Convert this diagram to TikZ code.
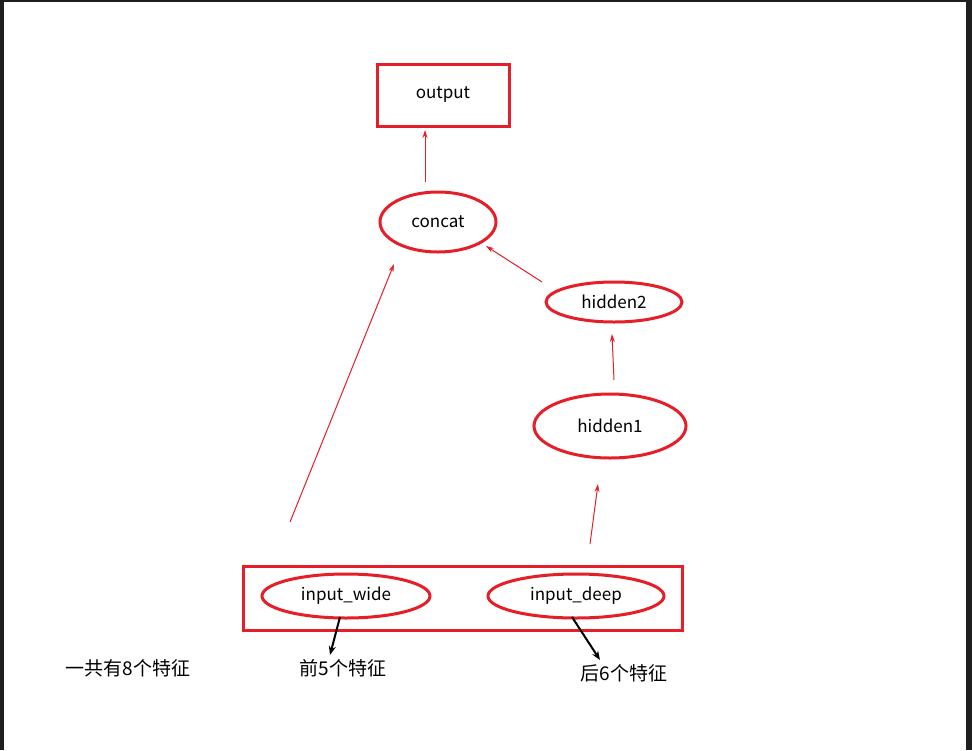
\documentclass[tikz,border=0pt]{standalone}
\usepackage{fontspec}
\setmainfont{Noto Sans CJK SC}
\usetikzlibrary{arrows.meta,shapes.geometric}
\begin{document}
\begin{tikzpicture}[x=1pt,y=-1pt,
  red1/.style={draw={rgb,255:red,230;green,30;blue,40},line width=3pt},
  ell/.style={red1,ellipse,inner sep=0pt,font=\fontsize{17}{20}\selectfont},
  rar/.style={draw={rgb,255:red,230;green,30;blue,40},line width=1pt,-{Stealth[length=8pt,width=5pt]}},
  bar/.style={draw=black,line width=2pt,-{Stealth[length=9pt,width=7pt]}},
  lab/.style={font=\fontsize{19}{22}\selectfont}]
\fill[black!88] (0,0) rectangle (972,750);
\fill[white] (4,2) rectangle (966,750);
\useasboundingbox (0,0) rectangle (972,750);
\node[red1,rectangle,minimum width=132pt,minimum height=62pt,font=\fontsize{17}{20}\selectfont] (out) at (443,95) {output};
\node[ell,minimum width=116pt,minimum height=60pt] (concat) at (438,222) {concat};
\node[ell,minimum width=136pt,minimum height=40pt] (h2) at (614,302) {hidden2};
\node[ell,minimum width=152pt,minimum height=64pt] (h1) at (610,426) {hidden1};
\node[red1,rectangle,minimum width=439pt,minimum height=64pt] (inp) at (462.5,598) {};
\node[ell,minimum width=168pt,minimum height=44pt] (iw) at (346,596) {input\_wide};
\node[ell,minimum width=176pt,minimum height=44pt] (id) at (576,596) {input\_deep};
\coordinate (a1) at (425,182); \coordinate (a1e) at (425,130);
\coordinate (a2) at (542,282); \coordinate (a2e) at (486,246);
\coordinate (a3) at (614,380); \coordinate (a3e) at (612,334);
\coordinate (a4) at (290,522); \coordinate (a4e) at (394,264);
\coordinate (a5) at (590,544); \coordinate (a5e) at (598,484);
\draw[rar] (a1) -- (a1e);
\draw[rar] (a2) -- (a2e);
\draw[rar] (a3) -- (a3e);
\draw[rar] (a4) -- (a4e);
\draw[rar] (a5) -- (a5e);
\node[lab] (t0) at (128,668) {一共有8个特征};
\node[lab] (t1) at (343,668) {前5个特征};
\node[lab] (t2) at (624,673) {后6个特征};
\coordinate (b1) at (340,617); \coordinate (b1e) at (330,655);
\coordinate (b2) at (572,617); \coordinate (b2e) at (600,660);
\draw[bar] (b1) -- (b1e);
\draw[bar] (b2) -- (b2e);
\end{tikzpicture}
\end{document}
